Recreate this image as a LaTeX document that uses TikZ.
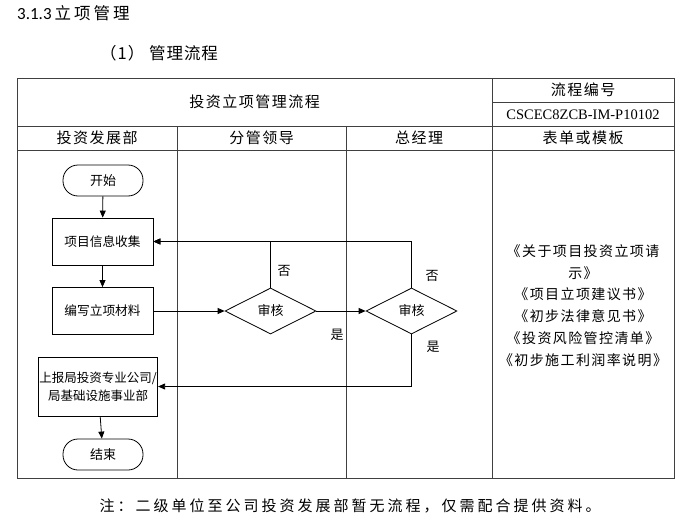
\documentclass[tikz,border=0pt]{standalone}
\usepackage{fontspec}
\setmainfont{Noto Sans CJK SC}
\newfontfamily\tnr{Liberation Serif}
\newfontfamily\carl{Carlito}
\usetikzlibrary{arrows.meta,shapes.geometric}
\newcommand{\fsz}[2]{\fontsize{#1}{#2}\selectfont}
\newcommand{\lsp}[1]{\addfontfeature{LetterSpace=#1}}
\tikzset{
  tbl/.style={draw=black!75, line width=1pt},
  flow/.style={draw=black, line width=0.8pt},
  arr/.style={flow, -{Triangle[length=7pt,width=6pt]}},
  term/.style={flow, rectangle, rounded corners=15pt, minimum width=80pt, minimum height=31pt, inner sep=1pt, font=\fsz{13}{15}},
  proc/.style={flow, rectangle, minimum width=101pt, minimum height=47pt, inner sep=1pt, align=center, font=\fsz{12.7}{18}},
  dia/.style={flow, diamond, minimum width=91pt, minimum height=46pt, inner sep=0pt, font=\fsz{13}{15}},
  lbl/.style={inner sep=0pt, font=\fsz{13}{15}},
  head/.style={inner sep=0pt, font=\fsz{15}{17}\lsp{10}},
}
\begin{document}
\begin{tikzpicture}[x=1pt,y=-1pt]
\useasboundingbox (0,0) rectangle (682,519);
% headings
\node[anchor=west, inner sep=0pt] (sec) at (17,13) {\fsz{17}{19}\carl 3.1.3\hspace{3pt}\rmfamily\fsz{16.5}{19}\lsp{18}立项管理};
\node[anchor=west, inner sep=0pt] (sub) at (100,53) {\fsz{16.5}{18}\lsp{6}（1） 管理流程};
% table
\draw[tbl] (17,78) rectangle (674,478);
\draw[tbl] (17,126) -- (674,126);
\draw[tbl] (17,150) -- (674,150);
\draw[tbl] (492,78) -- (492,478);
\draw[tbl] (492,102) -- (674,102);
\draw[tbl] (177,126) -- (177,478);
\draw[tbl] (346,126) -- (346,478);
\node[head] (title) at (254.5,102) {投资立项管理流程};
\node[head] (numh) at (583,90) {流程编号};
\node[inner sep=0pt, font=\tnr\fsz{14.5}{17}] (num) at (583,114.5) {CSCEC8ZCB-IM-P10102};
\node[head] (c1) at (97,138) {投资发展部};
\node[head] (c2) at (261.5,138) {分管领导};
\node[head] (c3) at (419,138) {总经理};
\node[head] (c4) at (583,138) {表单或模板};
\node[inner sep=0pt, align=center, font=\fsz{14}{21.8}\lsp{10}] (forms) at (583,305.5)
  {《关于项目投资立项请\\示》\\《项目立项建议书》\\《初步法律意见书》\\《投资风险管控清单》\\《初步施工利润率说明》};
% flow nodes
\node[term] (start) at (103,180.5) {开始};
\node[proc] (info) at (102.5,241.5) {项目信息收集};
\node[proc] (write) at (102.5,311) {编写立项材料};
\node[dia] (d1) at (270.5,311) {审核};
\node[dia] (d2) at (411.5,311) {审核};
\node[proc, minimum width=118pt, minimum height=59pt, font=\fsz{12.5}{18}] (report) at (98,386.5) {上报局投资专业公司/\\局基础设施事业部};
\node[term] (end) at (103,454.5) {结束};
% labels
\node[lbl] (no1) at (284,271) {否};
\node[lbl] (no2) at (432,276) {否};
\node[lbl] (yes1) at (337,335) {是};
\node[lbl] (yes2) at (433,347) {是};
% connectors
\draw[arr] (start) -- (info);
\draw[arr] (info) -- (write);
\draw[arr] (write) -- (d1);
\draw[arr] (d1) -- (d2);
\draw[arr] (d1.north) |- (info.east);
\draw[arr] (d2.north) |- (info.east);
\draw[arr] (d2.south) |- (report.east);
\draw[arr] (report) -- (end);
% note
\node[inner sep=0pt, font=\fsz{15}{17}\lsp{20}] (note) at (350,506) {注：二级单位至公司投资发展部暂无流程，仅需配合提供资料。};
\end{tikzpicture}
\end{document}
